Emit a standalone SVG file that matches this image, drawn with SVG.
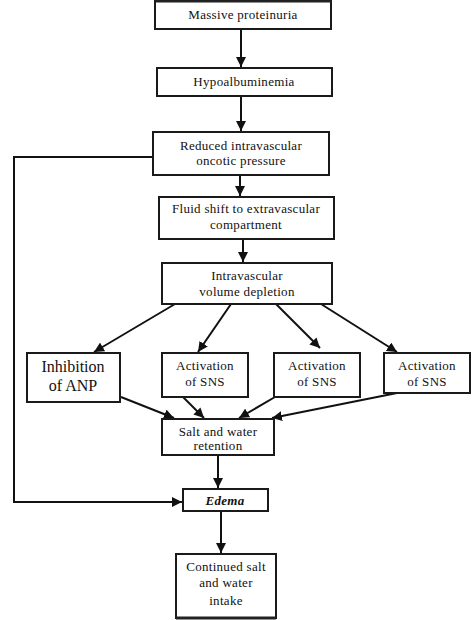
<svg xmlns="http://www.w3.org/2000/svg" width="474" height="620" viewBox="0 0 474 620">
<style>
.box{fill:#fff;stroke:#1a1a1a;stroke-width:2}
text{font-family:'Liberation Serif','DejaVu Serif',serif;font-size:13px;fill:#111;text-anchor:middle;letter-spacing:0.3px}
.big{font-size:16px;letter-spacing:0}
.em{font-weight:bold;font-style:italic}
.c{fill:none;stroke:#111;stroke-width:2;marker-end:url(#ah)}
</style>
<defs>
<marker id="ah" viewBox="0 0 10 10" refX="10" refY="5" markerWidth="5" markerHeight="5" orient="auto" markerUnits="strokeWidth">
<path d="M0,0 L10,5 L0,10 z" fill="#111"/>
</marker>
</defs>
<rect width="474" height="620" fill="#fff"/>
<g id="connectors">
<line class="c" x1="241" y1="29" x2="241" y2="67"/>
<line class="c" x1="241" y1="96" x2="241" y2="131"/>
<line class="c" x1="240" y1="175" x2="240" y2="196"/>
<line class="c" x1="243" y1="239" x2="243" y2="262"/>
<line class="c" x1="175" y1="304" x2="94" y2="352"/>
<line class="c" x1="231" y1="304" x2="198" y2="352"/>
<line class="c" x1="276" y1="304" x2="320" y2="348"/>
<line class="c" x1="321" y1="304" x2="397" y2="352"/>
<line class="c" x1="121" y1="397" x2="174" y2="418"/>
<line class="c" x1="183" y1="397" x2="204" y2="418"/>
<line class="c" x1="275" y1="397" x2="239" y2="418"/>
<line class="c" x1="397" y1="393" x2="272" y2="418"/>
<line class="c" x1="218" y1="455" x2="218" y2="488"/>
<polyline class="c" points="153,157 14,157 14,502 182,502"/>
<line class="c" x1="221" y1="511" x2="221" y2="553"/>
</g>
<g id="n1"><rect class="box" x="155" y="1" width="176" height="28"/><line x1="155" y1="1" x2="331" y2="1" stroke="#222" stroke-width="3"/><text x="243" y="19">Massive proteinuria</text></g>
<g id="n2"><rect class="box" x="157" y="68" width="175" height="28"/><text x="244" y="86">Hypoalbuminemia</text></g>
<g id="n3"><rect class="box" x="153" y="132" width="176" height="43"/><text x="241" y="150">Reduced intravascular</text><text x="241" y="165">oncotic pressure</text></g>
<g id="n4"><rect class="box" x="159" y="197" width="175" height="42"/><text x="246" y="213">Fluid shift to extravascular</text><text x="246" y="229">compartment</text></g>
<g id="n5"><rect class="box" x="162" y="263" width="170" height="41"/><text x="247" y="280">Intravascular</text><text x="247" y="296">volume depletion</text></g>
<g id="n6"><rect class="box" x="27" y="353" width="93" height="49"/><text class="big" x="73" y="372">Inhibition</text><text class="big" x="73" y="391">of ANP</text></g>
<g id="n7"><rect class="box" x="162" y="353" width="86" height="44"/><text x="205" y="370">Activation</text><text x="205" y="386">of SNS</text></g>
<g id="n8"><rect class="box" x="274" y="353" width="86" height="44"/><text x="317" y="370">Activation</text><text x="317" y="386">of SNS</text></g>
<g id="n9"><rect class="box" x="384" y="353" width="86" height="40"/><text x="427" y="370">Activation</text><text x="427" y="386">of SNS</text></g>
<g id="n10"><rect class="box" x="162" y="419" width="112" height="36"/><text x="218" y="436">Salt and water</text><text x="218" y="450">retention</text></g>
<g id="n11"><rect class="box" x="183" y="489" width="85" height="22"/><text class="em" x="225" y="505">Edema</text></g>
<g id="n12"><rect class="box" x="176" y="554" width="100" height="64"/><line x1="176" y1="618" x2="276" y2="618" stroke="#222" stroke-width="3"/><text x="226" y="571">Continued salt</text><text x="226" y="587">and water</text><text x="226" y="605">intake</text></g>
</svg>
